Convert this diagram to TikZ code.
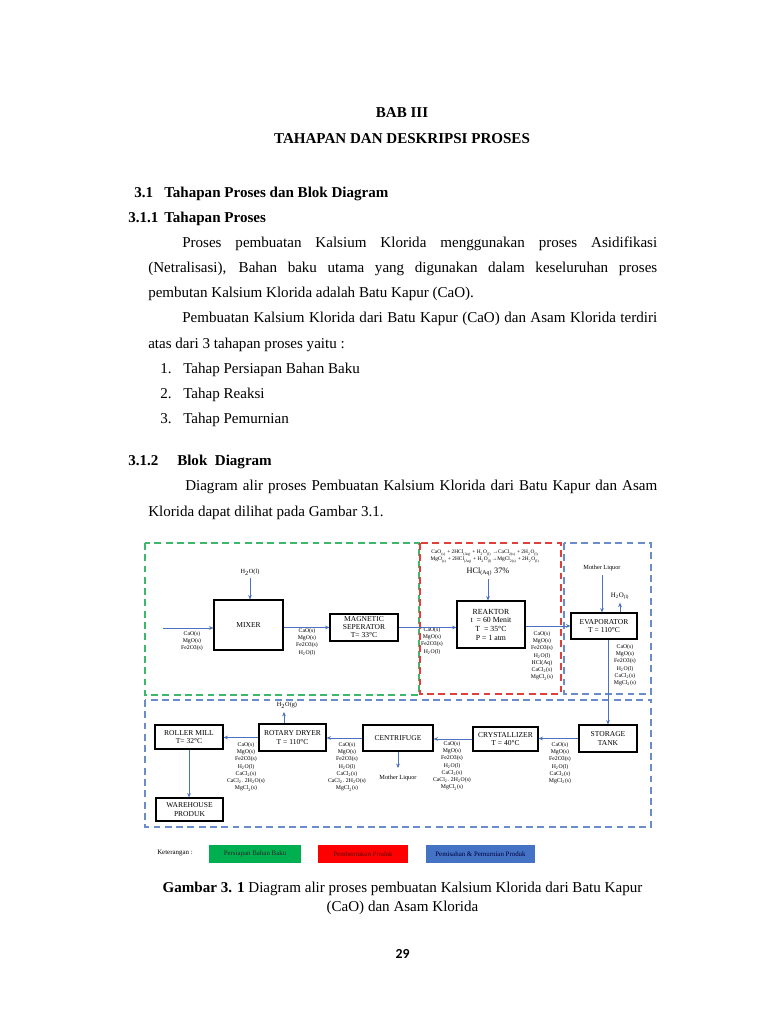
\documentclass[tikz,border=0pt]{standalone}
\usepackage{fontspec}
\setmainfont{Liberation Serif}
\newfontfamily\numfont{Carlito}
\usetikzlibrary{arrows.meta}
\definecolor{ablue}{HTML}{4A72C0}
\definecolor{zgreen}{HTML}{3DB86A}
\definecolor{zred}{HTML}{E0403A}
\definecolor{zblue}{HTML}{6A8CCB}
\definecolor{lgreen}{HTML}{00B050}
\definecolor{lred}{HTML}{FF0000}
\definecolor{lblue}{HTML}{4472C4}
\newlength\pxu \setlength\pxu{0.797pt}
\newcommand\sbs[1]{\textsubscript{#1}}
\tikzset{
  body/.style={anchor=base west, inner sep=0, font=\fontsize{12}{14}\selectfont},
  hd/.style={anchor=base west, inner sep=0, font=\fontsize{12}{14}\selectfont\bfseries},
  blk/.style={draw, line width=0.9pt, align=center, inner sep=0, font=\fontsize{6}{6.8}\selectfont},
  lbl/.style={align=center, inner sep=0, anchor=north, font=\fontsize{4.6}{5.8}\selectfont},
  tag/.style={align=center, inner sep=0, font=\fontsize{5}{6}\selectfont},
  flow/.style={draw=ablue, line width=0.7pt, -{Stealth[length=3.5pt,width=3pt]}},
  zone/.style={line width=0.9pt, dash pattern=on 5.5pt off 3.5pt},
  leg/.style={inner sep=0, minimum height=18\pxu, font=\fontsize{5.5}{6}\selectfont}
}
\begin{document}
\begin{tikzpicture}[x=0.797pt, y=-0.797pt]
\path[fill=white] (0,0) rectangle (768,1024);
\useasboundingbox (0,0) rectangle (768,1024);

% ---------- headings and text ----------
\node[hd, anchor=base] (bab) at (402,117) {BAB III};
\node[hd, anchor=base] (judul) at (402,143) {TAHAPAN DAN DESKRIPSI PROSES};
\node[hd] (s31n) at (134,197) {3.1};
\node[hd] (s31t) at (164,197) {Tahapan Proses dan Blok Diagram};
\node[hd] (s311n) at (128,222) {3.1.1};
\node[hd] (s311t) at (164,222) {Tahapan Proses};
\node[body] (p1) at (182,247) {\makebox[475\pxu][s]{Proses pembuatan Kalsium Klorida menggunakan proses Asidifikasi}};
\node[body] (p2) at (148,272) {\makebox[509\pxu][s]{(Netralisasi), Bahan baku utama yang digunakan dalam keseluruhan proses}};
\node[body] (p3) at (148,297) {pembutan Kalsium Klorida adalah Batu Kapur (CaO).};
\node[body] (p4) at (182,322) {\makebox[475\pxu][s]{Pembuatan Kalsium Klorida dari Batu Kapur (CaO) dan Asam Klorida terdiri}};
\node[body] (p5) at (148,348) {atas dari 3 tahapan proses yaitu :};
\node[body] (l1n) at (160,373) {1.};
\node[body] (l1t) at (183,373) {Tahap Persiapan Bahan Baku};
\node[body] (l2n) at (160,398) {2.};
\node[body] (l2t) at (183,398) {Tahap Reaksi};
\node[body] (l3n) at (160,423) {3.};
\node[body] (l3t) at (183,423) {Tahap Pemurnian};
\node[hd] (s312n) at (128,465) {3.1.2};
\node[hd] (s312t) at (177,465) {Blok\ \ Diagram};
\node[body] (p6) at (185,490) {\makebox[472\pxu][s]{Diagram alir proses Pembuatan Kalsium Klorida dari Batu Kapur dan Asam}};
\node[body] (p7) at (148,516) {Klorida dapat dilihat pada Gambar 3.1.};

% ---------- zones ----------
\draw[zone, zgreen] (145,543) rectangle (419,695);
\draw[zone, zred] (420,543) rectangle (561,694);
\draw[zone, zblue] (564,543) rectangle (651,694);
\draw[zone, zblue] (145,700) rectangle (651,827);

% ---------- blocks ----------
\node[blk, minimum width=69\pxu, minimum height=50\pxu] (mixer) at (248.5,625) {MIXER};
\node[blk, minimum width=68\pxu, minimum height=27\pxu, font=\fontsize{6}{6.4}\selectfont] (mag) at (364,627.5) {MAGNETIC\\SEPERATOR\\T= 33°C};
\node[blk, minimum width=68\pxu, minimum height=47\pxu, font=\fontsize{6.2}{6.9}\selectfont] (reak) at (491,624.5) {REAKTOR\\t\ \ = 60 Menit\\T\ \ = 35°C\\P = 1 atm};
\node[blk, minimum width=66\pxu, minimum height=26\pxu] (evap) at (604,626) {EVAPORATOR\\T = 110°C};
\node[blk, minimum width=58\pxu, minimum height=27\pxu] (stor) at (608,738.5) {STORAGE\\TANK};
\node[blk, minimum width=65\pxu, minimum height=24\pxu] (cry) at (505.5,739) {CRYSTALLIZER\\T = 40°C};
\node[blk, minimum width=70\pxu, minimum height=26\pxu] (cen) at (398,738) {CENTRIFUGE};
\node[blk, minimum width=67\pxu, minimum height=27\pxu] (rot) at (292.5,737.5) {ROTARY DRYER\\T = 110°C};
\node[blk, minimum width=68\pxu, minimum height=24\pxu] (roll) at (189,737) {ROLLER MILL\\T= 32°C};
\node[blk, minimum width=67\pxu, minimum height=23\pxu] (ware) at (189.5,809.5) {WAREHOUSE\\PRODUK};

% ---------- top tags ----------
\node[tag] (h2oa) at (250,572) {H\sbs{2}O(l)};
\node[align=center, inner sep=0, font=\fontsize{4.3}{5.6}\selectfont] (rx) at (485,556.5) {CaO\sbs{(s)} + 2HCl\sbs{(Aq)} + H\sbs{2}O\sbs{(l)} {\bfseries→}CaCl\sbs{2(s)} + 2H\sbs{2}O\sbs{(l)}\\MgO\sbs{(s)} + 2HCl\sbs{(Aq)} + H\sbs{2}O\sbs{(l)}{\bfseries→}MgCl\sbs{2(s)} + 2H\sbs{2}O\sbs{(l)}};
\node[inner sep=0, font=\fontsize{6.6}{7}\selectfont] (hcl) at (488,572) {HCl\sbs{(Aq)} 37\%};
\node[tag] (ml1) at (602,568) {Mother Liquor};
\node[inner sep=0, font=\fontsize{5.5}{6}\selectfont] (h2ob) at (620,596) {H\sbs{2}O\sbs{(l)}};
\node[tag] (h2oc) at (287,705) {H\sbs{2}O(g)};
\node[tag] (ml2) at (398,778) {Mother Liquor};

% ---------- stream labels ----------
\node[lbl] (s1) at (192,631) {CaO(s)\\MgO(s)\\Fe2O3(s)};
\node[lbl] (s2) at (307,628) {CaO(s)\\MgO(s)\\Fe2O3(s)\\H\sbs{2}O(l)};
\node[lbl] (s3) at (432,627) {CaO(s)\\MgO(s)\\Fe2O3(s)\\H\sbs{2}O(l)};
\node[lbl] (s4) at (542,631) {CaO(s)\\MgO(s)\\Fe2O3(s)\\H\sbs{2}O(l)\\HCl(Aq)\\CaCl\sbs{2}(s)\\MgCl\sbs{2}(s)};
\node[lbl] (s5) at (625,644) {CaO(s)\\MgO(s)\\Fe2O3(s)\\H\sbs{2}O(l)\\CaCl\sbs{2}(s)\\MgCl\sbs{2}(s)};
\node[lbl] (s6) at (560,742) {CaO(s)\\MgO(s)\\Fe2O3(s)\\H\sbs{2}O(l)\\CaCl\sbs{2}(s)\\MgCl\sbs{2}(s)};
\node[lbl] (s7) at (452,741) {CaO(s)\\MgO(s)\\Fe2O3(s)\\H\sbs{2}O(l)\\CaCl\sbs{2}(s)\\CaCl\sbs{2}. 2H\sbs{2}O(s)\\MgCl\sbs{2}(s)};
\node[lbl] (s8) at (347,742) {CaO(s)\\MgO(s)\\Fe2O3(s)\\H\sbs{2}O(l)\\CaCl\sbs{2}(s)\\CaCl\sbs{2}. 2H\sbs{2}O(s)\\MgCl\sbs{2}(s)};
\node[lbl] (s9) at (246,742) {CaO(s)\\MgO(s)\\Fe2O3(s)\\H\sbs{2}O(l)\\CaCl\sbs{2}(s)\\CaCl\sbs{2}. 2H\sbs{2}O(s)\\MgCl\sbs{2}(s)};

% ---------- connectors ----------
\coordinate (feed) at (163,628);
\coordinate (vapr) at (284,712);
\coordinate (mlend) at (398,768);
\draw[flow] (feed) -- (feed -| mixer.west);
\draw[flow] (mixer.east |- mag.west) -- (mag.west);
\draw[flow] (mag.east) -- (mag.east -| reak.west);
\draw[flow] (reak.east |- evap.west) -- (evap.west);
\draw[flow] ([yshift=-3\pxu]h2oa.south) -- (h2oa.south |- mixer.north);
\draw[flow] ([yshift=-3\pxu]hcl.south) -- (hcl.south |- reak.north);
\draw[flow] ([yshift=-4\pxu]ml1.south) -- (ml1.south |- evap.north);
\draw[flow] (h2ob.south |- evap.north) -- ([yshift=-3\pxu]h2ob.south);
\draw[flow] (stor.north |- evap.south) -- (stor.north);
\draw[flow] (stor.west) -- (stor.west -| cry.east);
\draw[flow] (cry.west) -- (cry.west -| cen.east);
\draw[flow] (cen.west) -- (cen.west -| rot.east);
\draw[flow] (rot.west) -- (rot.west -| roll.east);
\draw[flow] (vapr |- rot.north) -- (vapr);
\draw[flow] (cen.south) -- (mlend);
\draw[flow] (roll.south) -- (roll.south |- ware.north);

% ---------- legend ----------
\node[anchor=west, inner sep=0, font=\fontsize{5.5}{6}\selectfont] (ket) at (157,853) {Keterangan :};
\node[leg, fill=lgreen, minimum width=92\pxu, text=black!85] (lg1) at (255,854) {Persiapan Bahan Baku};
\node[leg, fill=lred, minimum width=90\pxu, text=red!35!black] (lg2) at (363,854) {Pembentukan Produk};
\node[leg, fill=lblue, minimum width=109\pxu, text=blue!25!black] (lg3) at (480.5,854) {Pemisahan \& Pemurnian Produk};

% ---------- caption and page number ----------
\node[body, anchor=base] (cap1) at (402.5,892) {\textbf{Gambar 3. 1} Diagram alir proses pembuatan Kalsium Klorida dari Batu Kapur};
\node[body, anchor=base] (cap2) at (402.5,911) {(CaO) dan Asam Klorida};
\node[anchor=base, inner sep=0, font=\numfont\fontsize{11}{13}\selectfont\bfseries] (pg) at (402.5,958) {29};
\end{tikzpicture}
\end{document}
